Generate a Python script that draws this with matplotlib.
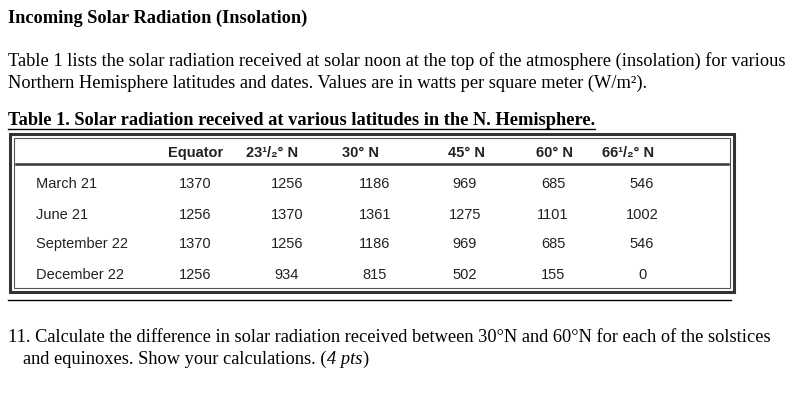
import matplotlib
matplotlib.use("Agg")
import matplotlib.pyplot as plt
from matplotlib.patches import Rectangle

# table data
columns = ["Equator", "23¹/₂° N", "30° N", "45° N", "60° N", "66¹/₂° N"]
dates = ["March 21", "June 21", "September 22", "December 22"]
equator = [1370, 1256, 1370, 1256]
lat_23 = [1256, 1370, 1256, 934]
lat_30 = [1186, 1361, 1186, 815]
lat_45 = [969, 1275, 969, 502]
lat_60 = [685, 1101, 685, 155]
lat_66 = [546, 1002, 546, 0]
values = [equator, lat_23, lat_30, lat_45, lat_60, lat_66]

SERIF = ["Liberation Serif", "DejaVu Serif"]
SANS = ["Liberation Sans Narrow", "Liberation Sans", "DejaVu Sans"]

fig = plt.figure(figsize=(8.05, 4.07), dpi=100)
ax = fig.add_axes([0, 0, 1, 1])
ax.set_xlim(0, 805)
ax.set_ylim(407, 0)
ax.axis("off")
renderer = fig.canvas.get_renderer()


def width_of(t):
    bb = t.get_window_extent(renderer=renderer)
    return bb.width


def put(x, y, s, **kw):
    kw.setdefault("family", SERIF)
    kw.setdefault("fontsize", 13.2)
    kw.setdefault("va", "baseline")
    return ax.text(x, y, s, **kw)


put(8, 23, "Incoming Solar Radiation (Insolation)", fontweight="bold", fontsize=13.2)
put(8, 66, "Table 1 lists the solar radiation received at solar noon at the top of the atmosphere (insolation) for various")
put(8, 88, "Northern Hemisphere latitudes and dates. Values are in watts per square meter (W/m²).")

t = put(8, 125, "Table 1. Solar radiation received at various latitudes in the N. Hemisphere.",
        fontweight="bold")
ax.plot([8, 8 + width_of(t)], [129, 129], color="black", lw=1)

# table frame (double border)
ax.add_patch(Rectangle((10, 134), 724, 158, fill=False, lw=2.2, ec="#333333"))
ax.add_patch(Rectangle((14, 138), 716, 150, fill=False, lw=0.8, ec="#555555"))
ax.plot([16, 728], [164, 164], color="#333333", lw=1.8)

header_x = [196, 272, 360, 466, 554, 628]
value_x = [195, 287, 375, 465, 553, 642]
row_y = [188, 219, 248, 279]

for hx, name in zip(header_x, columns):
    ax.text(hx, 157, name, family=SANS, fontsize=10.5, fontweight="bold",
            ha="center", va="baseline", color="#222222")
for ry, d in zip(row_y, dates):
    ax.text(36, ry, d, family=SANS, fontsize=10.5, va="baseline", color="#222222")
for vx, col in zip(value_x, values):
    for ry, v in zip(row_y, col):
        ax.text(vx, ry, str(v), family=SANS, fontsize=10.5, ha="center",
                va="baseline", color="#222222")

ax.plot([8, 731], [300, 300], color="black", lw=1)

put(8, 342, "11. Calculate the difference in solar radiation received between 30°N and 60°N for each of the solstices")
t = put(23, 364, "and equinoxes. Show your calculations. (")
w = width_of(t)
t2 = put(23 + w, 364, "4 pts", style="italic")
put(23 + w + width_of(t2), 364, ")")

fig.savefig("out.png", dpi=100)
